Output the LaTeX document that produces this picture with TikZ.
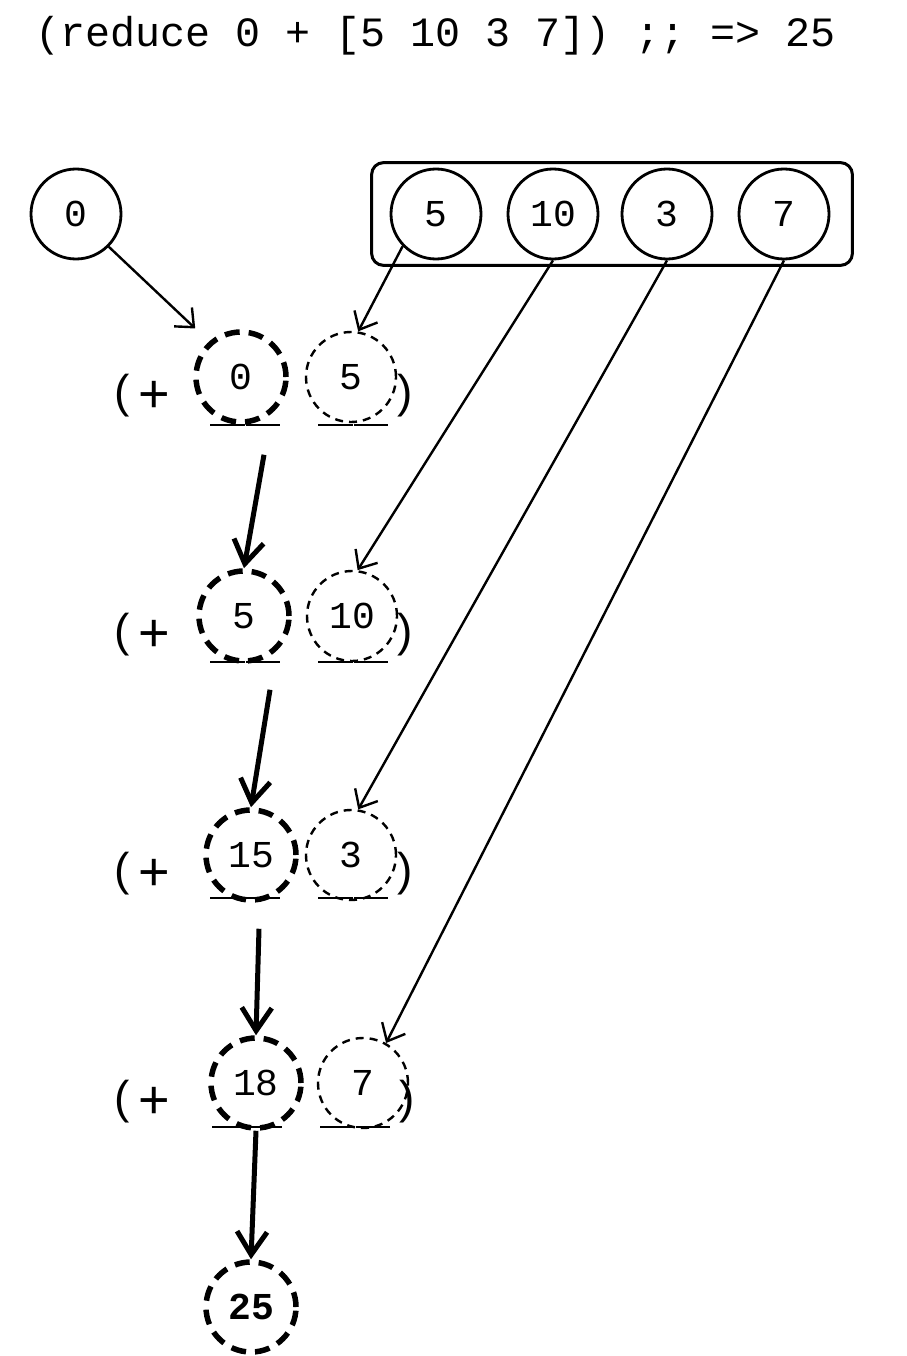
\documentclass[tikz,border=0pt]{standalone}
\usepackage{fontspec}
\setmainfont{Liberation Sans}
\setsansfont{Liberation Sans}
\setmonofont{Liberation Mono}
\usetikzlibrary{arrows.meta,fit}

\begin{document}
\begin{tikzpicture}[x=1pt,y=-1pt,
  numc/.style={circle,draw,line width=2.8pt,minimum size=90pt,inner sep=0pt,font=\fontsize{38}{38}\ttfamily},
  accc/.style={numc,line width=5.5pt,dash pattern=on 15pt off 9pt},
  argc/.style={numc,line width=2.4pt,dash pattern=on 8pt off 6pt},
  thinarr/.style={line width=2.4pt,-{Straight Barb[length=15pt,width=26pt]}},
  thickarr/.style={line width=5pt,-{Straight Barb[length=23pt,width=30pt]}},
  paren/.style={inner sep=0pt,anchor=base west,font=\fontsize{46}{46}\sffamily},
  uline/.style={line width=2pt,dash pattern=on 35pt off 1pt}]
  \useasboundingbox (0,0) rectangle (906,1356);

  \node[anchor=base west,inner sep=0pt,font=\fontsize{41.7}{42}\ttfamily] (code) at (35,47) {(reduce 0 + [5 10 3 7]) ;; => 25};

  \node[numc] (n0) at (76,214) {0};
  \foreach \v/\x in {5/436,10/553,3/667,7/784}
    \node[numc] (n\v) at (\x,214) {\v};
  \node[fit=(n5)(n7),draw,line width=3pt,rounded corners=12pt,inner xsep=20pt,inner ysep=5pt,xshift=2pt] (vec) {};

  \foreach \i/\ax/\bx/\y/\av/\bv/\ux/\uy in {1/241/351/377/0/5/210/425,
      2/244/352/616/5/10/210/662, 3/251/351/855/15/3/210/898, 4/256/363/1083/18/7/212/1127} {
    \node[accc] (a\i) at (\ax,\y) {\av};
    \node[argc] (b\i) at (\bx,\y) {\bv};
    \node[paren] (p\i) at (114,\y+30) {(\kern9pt\fontsize{54}{54}\selectfont\raisebox{-5pt}{+}};
    \node[paren] (q\i) at (\ux+187,\y+30) {)};
    \draw[uline] (\ux,\uy) -- ++(70,0) (\ux+108,\uy) -- ++(70,0);
  }

  \node[accc,font=\fontsize{38}{38}\ttfamily\bfseries] (res) at (251,1307) {25};

  \draw[thinarr,shorten >=19pt] (n0.315) -- (a1.132);
  \draw[thinarr] (n5.224) -- (b1.81);
  \draw[thinarr] (n10.south) -- (b2.83);
  \draw[thinarr] (n3.south) -- (b3.81);
  \draw[thinarr] (n7.south) -- (b4.60);

  \draw[thickarr] ([shift={(23,30)}]a1.south) -- (a2.north);
  \draw[thickarr] ([shift={(26,26)}]a2.south) -- (a3.north);
  \draw[thickarr] ([shift={(8,26)}]a3.south) -- (a4.north);
  \draw[thickarr] (a4.south) -- (res.north);
\end{tikzpicture}
\end{document}
